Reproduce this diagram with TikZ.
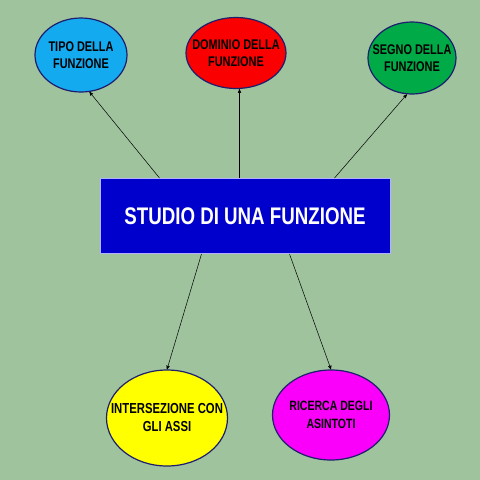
\documentclass[tikz,border=0pt]{standalone}
\usepackage{fontspec}
\setmainfont{Liberation Sans}
\newfontfamily\narrowfont[FakeStretch=0.78]{Liberation Sans}
\usetikzlibrary{arrows}
\usetikzlibrary{shapes.geometric}
\definecolor{sfondo}{RGB}{158,195,157}
\definecolor{celeste}{RGB}{20,170,240}
\definecolor{rosso}{RGB}{250,0,0}
\definecolor{verde}{RGB}{0,170,70}
\definecolor{giallo}{RGB}{255,255,0}
\definecolor{fucsia}{RGB}{250,0,250}
\definecolor{blu}{RGB}{0,0,205}
\definecolor{bordo}{RGB}{30,30,110}
\tikzset{
 bolla/.style={ellipse, draw=bordo, line width=1.2pt, inner sep=-16pt, align=center,
   font=\narrowfont\bfseries\fontsize{14}{17}\selectfont},
 freccia/.style={black, ->, >=stealth', line width=.5pt}
}
\begin{document}
\begin{tikzpicture} [x=1pt, y=-1pt]
\fill[sfondo] (0,0) rectangle (480,480);
\useasboundingbox (0,0) rectangle (480,480);
\node[draw=blue!30, line width=1pt, fill=blu, minimum width=290pt, minimum height=75pt,
 text=white, font=\narrowfont\bfseries\fontsize{24}{26}\selectfont] (studio) at (245,216) {STUDIO DI UNA FUNZIONE};
\node[bolla, fill=celeste, minimum width=92pt, minimum height=74pt] (tipo) at (81,55) {TIPO DELLA\\FUNZIONE};
\node[bolla, fill=rosso, minimum width=100pt, minimum height=71pt] (dominio) at (236,53) {DOMINIO DELLA\\FUNZIONE};
\node[bolla, fill=verde, minimum width=88pt, minimum height=72pt] (segno) at (412,58) {SEGNO DELLA\\FUNZIONE};
\node[bolla, fill=giallo, minimum width=121pt, minimum height=96pt,
 font=\narrowfont\bfseries\fontsize{14.5}{18}\selectfont] (intersezione) at (167,418) {INTERSEZIONE CON\\GLI ASSI};
\node[bolla, fill=fucsia, minimum width=117pt, minimum height=90pt,
 font=\narrowfont\bfseries\fontsize{13.5}{18}\selectfont] (ricerca) at (331,415) {RICERCA DEGLI\\ASINTOTI};
% punti di partenza sul rettangolo
\coordinate (p1) at ([xshift=60pt]studio.north west);
\coordinate (p2) at ([xshift=140pt]studio.north west);
\coordinate (p3) at ([xshift=235pt]studio.north west);
\coordinate (p4) at ([xshift=102pt]studio.south west);
\coordinate (p5) at ([xshift=190pt]studio.south west);
\draw[freccia] (p1) -- (tipo.-77);
\draw[freccia] (p2) -- (p2 |- dominio.south);
\draw[freccia] (p3) -- (segno.-98);
\draw[freccia] (p4) -- (intersezione.north);
\draw[freccia] (p5) -- (ricerca.north);
\end{tikzpicture}
\end{document}
